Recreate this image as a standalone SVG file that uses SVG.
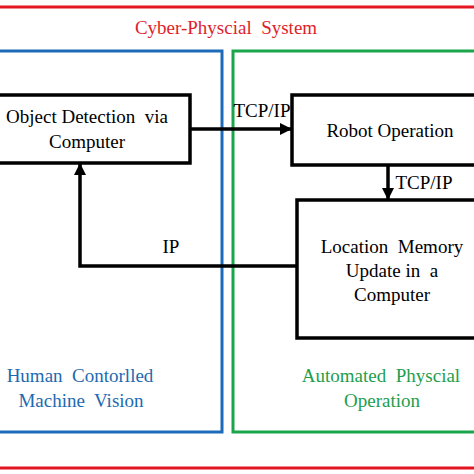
<svg xmlns="http://www.w3.org/2000/svg" width="474" height="474" viewBox="0 0 474 474">
<defs>
<marker id="ah" viewBox="0 0 10 10" refX="10" refY="5" markerWidth="3.5" markerHeight="3.5" markerUnits="strokeWidth" orient="auto">
<path d="M0,0 L10,5 L0,10 z" fill="#000"/>
</marker>
<style>
text{font-family:'Liberation Serif','DejaVu Serif','Times New Roman',serif;font-size:19px;text-anchor:middle;fill:#000;white-space:pre}
.box{fill:#fff;stroke:#000;stroke-width:3.5}
.conn{fill:none;stroke:#000;stroke-width:3.5}
.red{fill:#E01E2A}
.blue{fill:#1D6AB0}
.green{fill:#1E9E4C}
</style>
</defs>
<rect width="474" height="474" fill="#fff"/>
<g id="cps">
<rect x="-10" y="7" width="494" height="461" fill="none" stroke="#E31520" stroke-width="3"/>
<text class="red" x="226" y="34">Cyber-Physcial  System</text>
</g>
<g id="human">
<rect x="-10" y="51" width="232" height="381" fill="none" stroke="#1D6AB8" stroke-width="3"/>
<text class="blue" x="80" y="382">Human  Contorlled</text>
<text class="blue" x="81" y="407">Machine  Vision</text>
</g>
<g id="automated">
<rect x="233" y="51" width="260" height="381" fill="none" stroke="#1AA54A" stroke-width="3"/>
<text class="green" x="381" y="382">Automated  Physcial</text>
<text class="green" x="382" y="407">Operation</text>
</g>
<g id="connectors">
<line class="conn" x1="190" y1="129" x2="292" y2="129" marker-end="url(#ah)"/>
<line class="conn" x1="388" y1="165" x2="388" y2="200" marker-end="url(#ah)"/>
<polyline class="conn" points="297,266 80,266 80,163" marker-end="url(#ah)"/>
<text x="262" y="117">TCP/IP</text>
<text x="424" y="189">TCP/IP</text>
<text x="171" y="253">IP</text>
</g>
<g id="objdet">
<rect class="box" x="-10" y="95" width="200" height="68"/>
<text x="87" y="123">Object Detection  via</text>
<text x="87" y="148">Computer</text>
</g>
<g id="robot">
<rect class="box" x="292" y="95" width="200" height="70"/>
<text x="390" y="137">Robot Operation</text>
</g>
<g id="location">
<rect class="box" x="297" y="200" width="200" height="138"/>
<text x="392" y="253">Location  Memory</text>
<text x="392" y="277">Update in  a</text>
<text x="392" y="301">Computer</text>
</g>
</svg>
